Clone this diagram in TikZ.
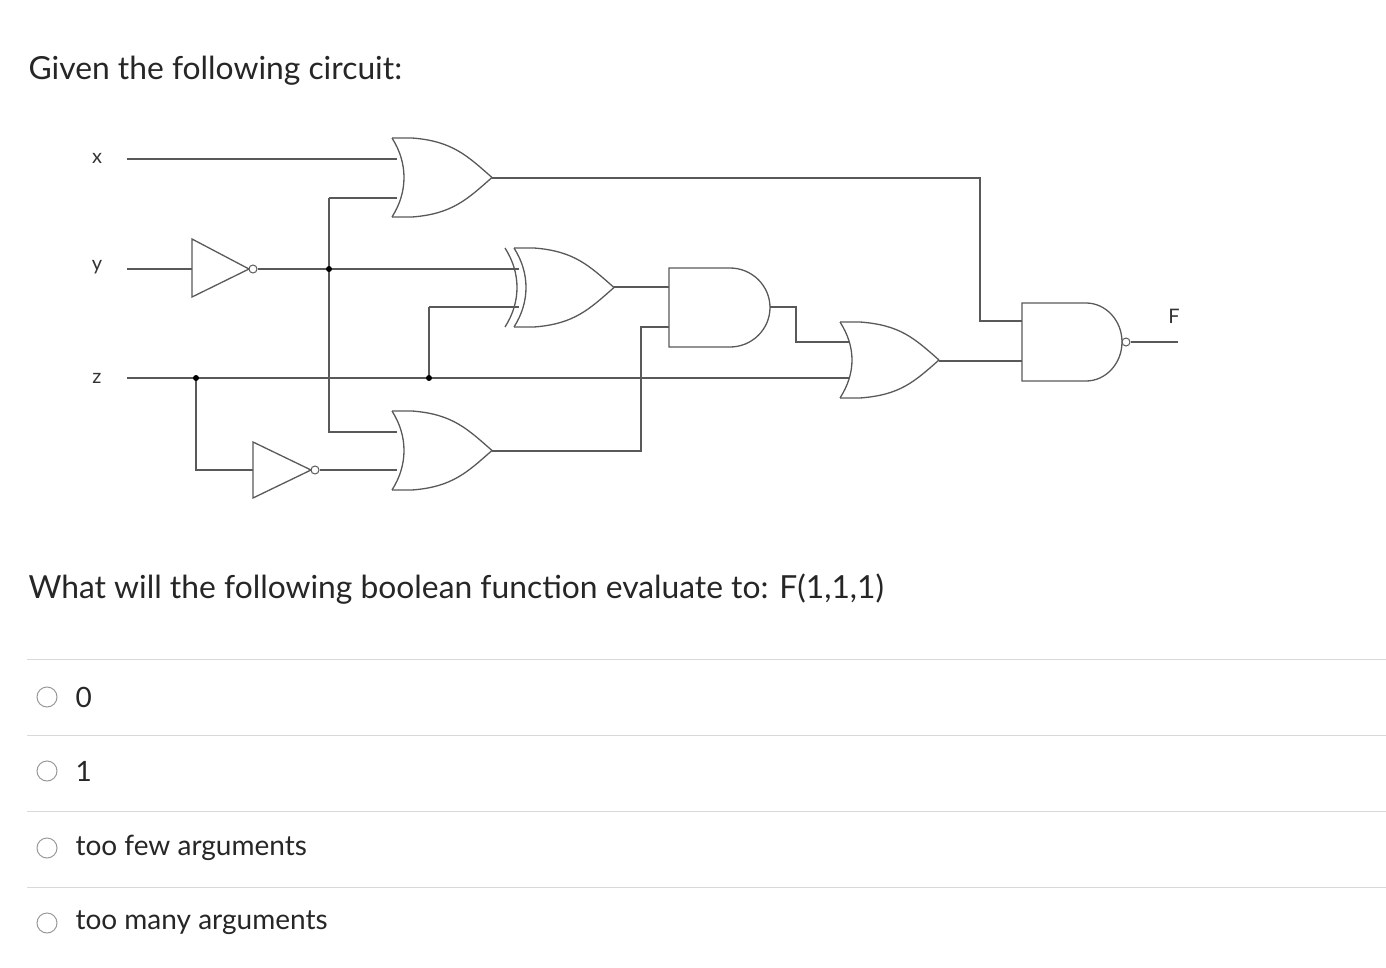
\documentclass[tikz,border=0pt]{standalone}
\usepackage{fontspec}
\setmainfont{Lato}
\begin{document}
\begin{tikzpicture}[x=1pt,y=-1pt,
  w/.style={draw=black!65,line width=1.3pt},
  dot/.style={circle,fill=black,inner sep=0pt,minimum size=6pt},
  bub/.style={circle,draw=black!65,fill=white,line width=1pt,inner sep=0pt,minimum size=8pt},
  lbl/.style={font=\fontsize{20}{24}\selectfont,text=black!80},
  sep/.style={draw=black!15,line width=1pt},
  radio/.style={circle,draw=black!40,line width=1pt,minimum size=20pt,inner sep=0pt},
  opt/.style={anchor=west,font=\fontsize{28}{32}\selectfont,text=black!85}]
\useasboundingbox (0,0) rectangle (1386,968);
\newcommand\ORG[4]{% left, top, bottom, tip
  \pgfmathsetmacro\mid{(#2+#3)/2}
  \draw[w] (#1,#2) .. controls (#1+16,#2+25) and (#1+16,#3-25) .. (#1,#3);
  \draw[w] (#1,#2) -- (#1+20,#2) .. controls (#1+60,#2+3) and (#4-25,\mid-22) .. (#4,\mid);
  \draw[w] (#1,#3) -- (#1+20,#3) .. controls (#1+60,#3-3) and (#4-25,\mid+22) .. (#4,\mid);}
\newcommand\ANDG[5]{% left, top, bottom, flatend, right
  \pgfmathsetmacro\mid{(#2+#3)/2}
  \pgfmathsetmacro\hh{0.55*(#3-#2)/2}
  \pgfmathsetmacro\rr{0.55*(#5-#4)}
  \draw[w] (#1,#2) -- (#4,#2) .. controls (#4+\rr,#2) and (#5,\mid-\hh) .. (#5,\mid)
    .. controls (#5,\mid+\hh) and (#4+\rr,#3) .. (#4,#3) -- (#1,#3) -- cycle;}
% text
\node[anchor=base west,font=\fontsize{31.8}{36}\selectfont,text=black!85] (t1) at (25,80) {Given the following circuit:};
\node[anchor=base west,font=\fontsize{31.8}{36}\selectfont,text=black!85] (t2) at (25,598) {What will the following boolean function evaluate to: F(1,1,1)};
\foreach \yy in {659,735,811,887} \draw[sep] (27,\yy) -- (1386,\yy);
\node[radio] (r0) at (47,697) {}; \node[opt] (o0) at (72,697) {0};
\node[radio] (r1) at (47,771) {}; \node[opt] (o1) at (72,771) {1};
\node[radio] (r2) at (47,848) {}; \node[opt] (o2) at (72,848) {too few arguments};
\node[radio] (r3) at (47,923) {}; \node[opt] (o3) at (72,923) {too many arguments};
% labels
\node[lbl] (lx) at (97,158) {x};
\node[lbl] (ly) at (97,267) {y};
\node[lbl] (lz) at (97,378) {z};
\node[lbl] (lF) at (1174,316) {F};
% gates
\ORG{392}{138}{217}{492}
\ORG{392}{411}{490}{492}
\ORG{514}{248}{327}{614}
\draw[w] (505,248) .. controls (521,273) and (521,302) .. (505,327);
\ORG{840}{322}{398}{939}
\ANDG{669}{268}{347}{730}{770}
\ANDG{1022}{303}{381}{1086}{1122}
% nots
\draw[w] (192,239) -- (192,297) -- (249,269) -- cycle;
\node[bub] (b1) at (253,269) {};
\draw[w] (253,442) -- (253,498) -- (311,470) -- cycle;
\node[bub] (b2) at (315,470) {};
\node[bub] (b3) at (1126,342) {};
% wires
\draw[w] (127,159) -- (397,159);
\draw[w] (127,269) -- (192,269);
\draw[w] (b1) -- (519,269);
\draw[w] (127,378) -- (849,378);
\draw[w] (329,198) -- (397,198);
\draw[w] (329,198) -- (329,432) -- (397,432);
\draw[w] (429,307) -- (519,307);
\draw[w] (429,307) -- (429,378);
\draw[w] (196,378) -- (196,470) -- (253,470);
\draw[w] (b2) -- (397,470);
\draw[w] (492,451) -- (641,451) -- (641,327) -- (669,327);
\draw[w] (614,287) -- (669,287);
\draw[w] (770,307) -- (796,307) -- (796,342) -- (849,342);
\draw[w] (492,178) -- (980,178) -- (980,321) -- (1022,321);
\draw[w] (939,361) -- (1022,361);
\draw[w] (b3) -- (1178,342);
\node[dot] (d1) at (329,269) {};
\node[dot] (d2) at (196,378) {};
\node[dot] (d3) at (429,378) {};
\end{tikzpicture}
\end{document}
